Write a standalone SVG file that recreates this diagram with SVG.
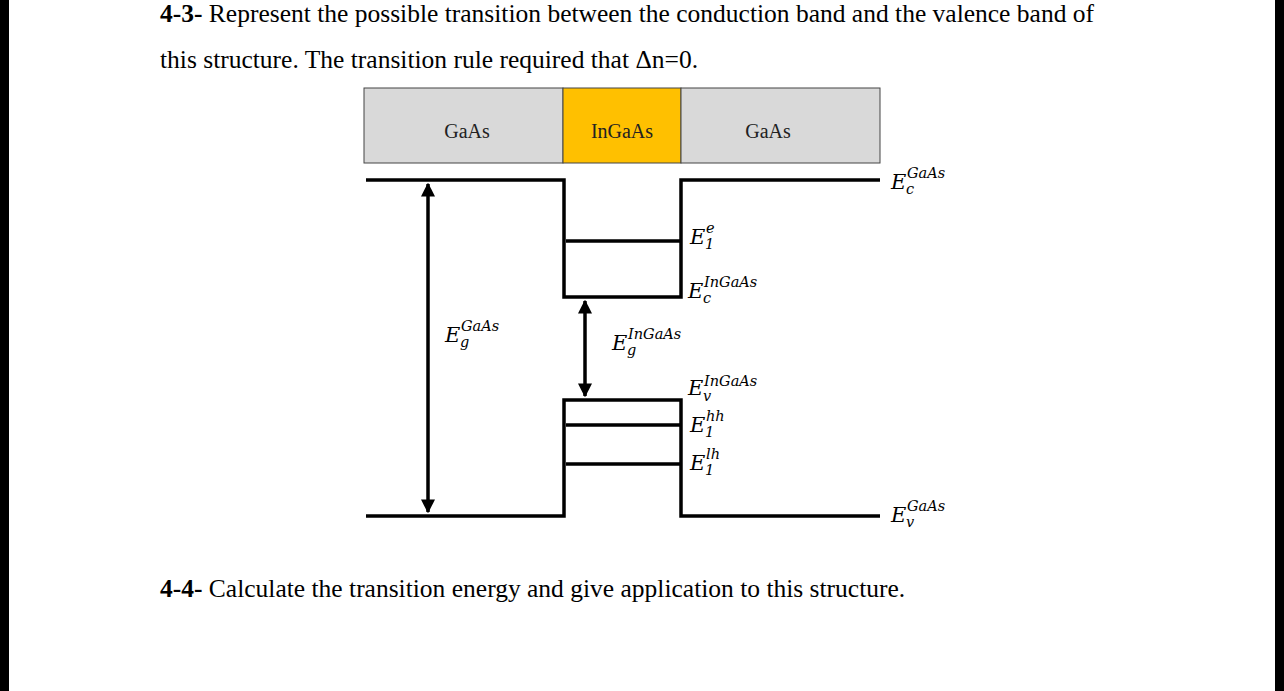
<svg xmlns="http://www.w3.org/2000/svg" width="1284" height="691" viewBox="0 0 1284 691">
<style>
.t{font-family:"Liberation Serif",serif;font-size:25.5px;fill:#000}
.b{font-family:"Liberation Serif",serif;font-size:20px;fill:#222}
.m{font-family:"DejaVu Serif",serif;font-style:italic;font-size:21px;fill:#000}
.s{font-family:"DejaVu Serif",serif;font-style:italic;font-size:14.5px;fill:#000}
.ln{stroke:#000;stroke-width:3.5;fill:none}
</style>
<defs>
<marker id="ah" viewBox="0 0 10 10" refX="9" refY="5" markerWidth="4" markerHeight="4" orient="auto-start-reverse"><path d="M0,0L10,5L0,10z" fill="#000"/></marker>
</defs>
<rect width="1284" height="691" fill="#fff"/>
<rect x="0" y="0" width="9" height="691" fill="#000"/>
<rect x="1275" y="0" width="9" height="691" fill="#000"/>
<text class="t" x="160" y="22"><tspan font-weight="bold">4-3-</tspan> Represent the possible transition between the conduction band and the valence band of</text>
<text class="t" x="160" y="68">this structure. The transition rule required that Δn=0.</text>
<text class="t" x="160" y="597"><tspan font-weight="bold">4-4-</tspan> Calculate the transition energy and give application to this structure.</text>
<g id="layer-gaas-left"><rect x="364" y="88" width="199" height="75" fill="#d9d9d9" stroke="#444"/><text class="b" x="467" y="138" text-anchor="middle">GaAs</text></g>
<g id="layer-ingaas"><rect x="563" y="88" width="118" height="75" fill="#ffc000" stroke="#444"/><text class="b" x="622" y="138" text-anchor="middle">InGaAs</text></g>
<g id="layer-gaas-right"><rect x="681" y="88" width="199" height="75" fill="#d9d9d9" stroke="#444"/><text class="b" x="768" y="138" text-anchor="middle">GaAs</text></g>
<g id="bands">
<path class="ln" d="M366,180H564V297H681V180H880"/>
<path class="ln" d="M366,516H564V400H681V516H880"/>
<path class="ln" d="M566,241H680M566,425H680M566,464H680"/>
</g>
<g id="connectors">
<line class="ln" x1="428" y1="184" x2="428" y2="512" marker-start="url(#ah)" marker-end="url(#ah)"/>
<line class="ln" x1="585" y1="301" x2="585" y2="396" marker-start="url(#ah)" marker-end="url(#ah)"/>
</g>
<g id="labels">
<text class="m" x="891" y="189">E</text><text class="s" x="907" y="178">GaAs</text><text class="s" x="906" y="194">c</text>
<text class="m" x="891" y="522">E</text><text class="s" x="907" y="511">GaAs</text><text class="s" x="906" y="527">v</text>
<text class="m" x="690" y="244">E</text><text class="s" x="706" y="233">e</text><text class="s" x="705" y="249">1</text>
<text class="m" x="688" y="298">E</text><text class="s" x="704" y="287">InGaAs</text><text class="s" x="703" y="303">c</text>
<text class="m" x="445" y="342">E</text><text class="s" x="461" y="331">GaAs</text><text class="s" x="460" y="347">g</text>
<text class="m" x="612" y="350">E</text><text class="s" x="628" y="339">InGaAs</text><text class="s" x="627" y="355">g</text>
<text class="m" x="688" y="395">E</text><text class="s" x="704" y="386">InGaAs</text><text class="s" x="703" y="401">v</text>
<text class="m" x="690" y="432">E</text><text class="s" x="706" y="421">hh</text><text class="s" x="705" y="437">1</text>
<text class="m" x="690" y="470">E</text><text class="s" x="706" y="459">lh</text><text class="s" x="705" y="475">1</text>
</g>
</svg>
